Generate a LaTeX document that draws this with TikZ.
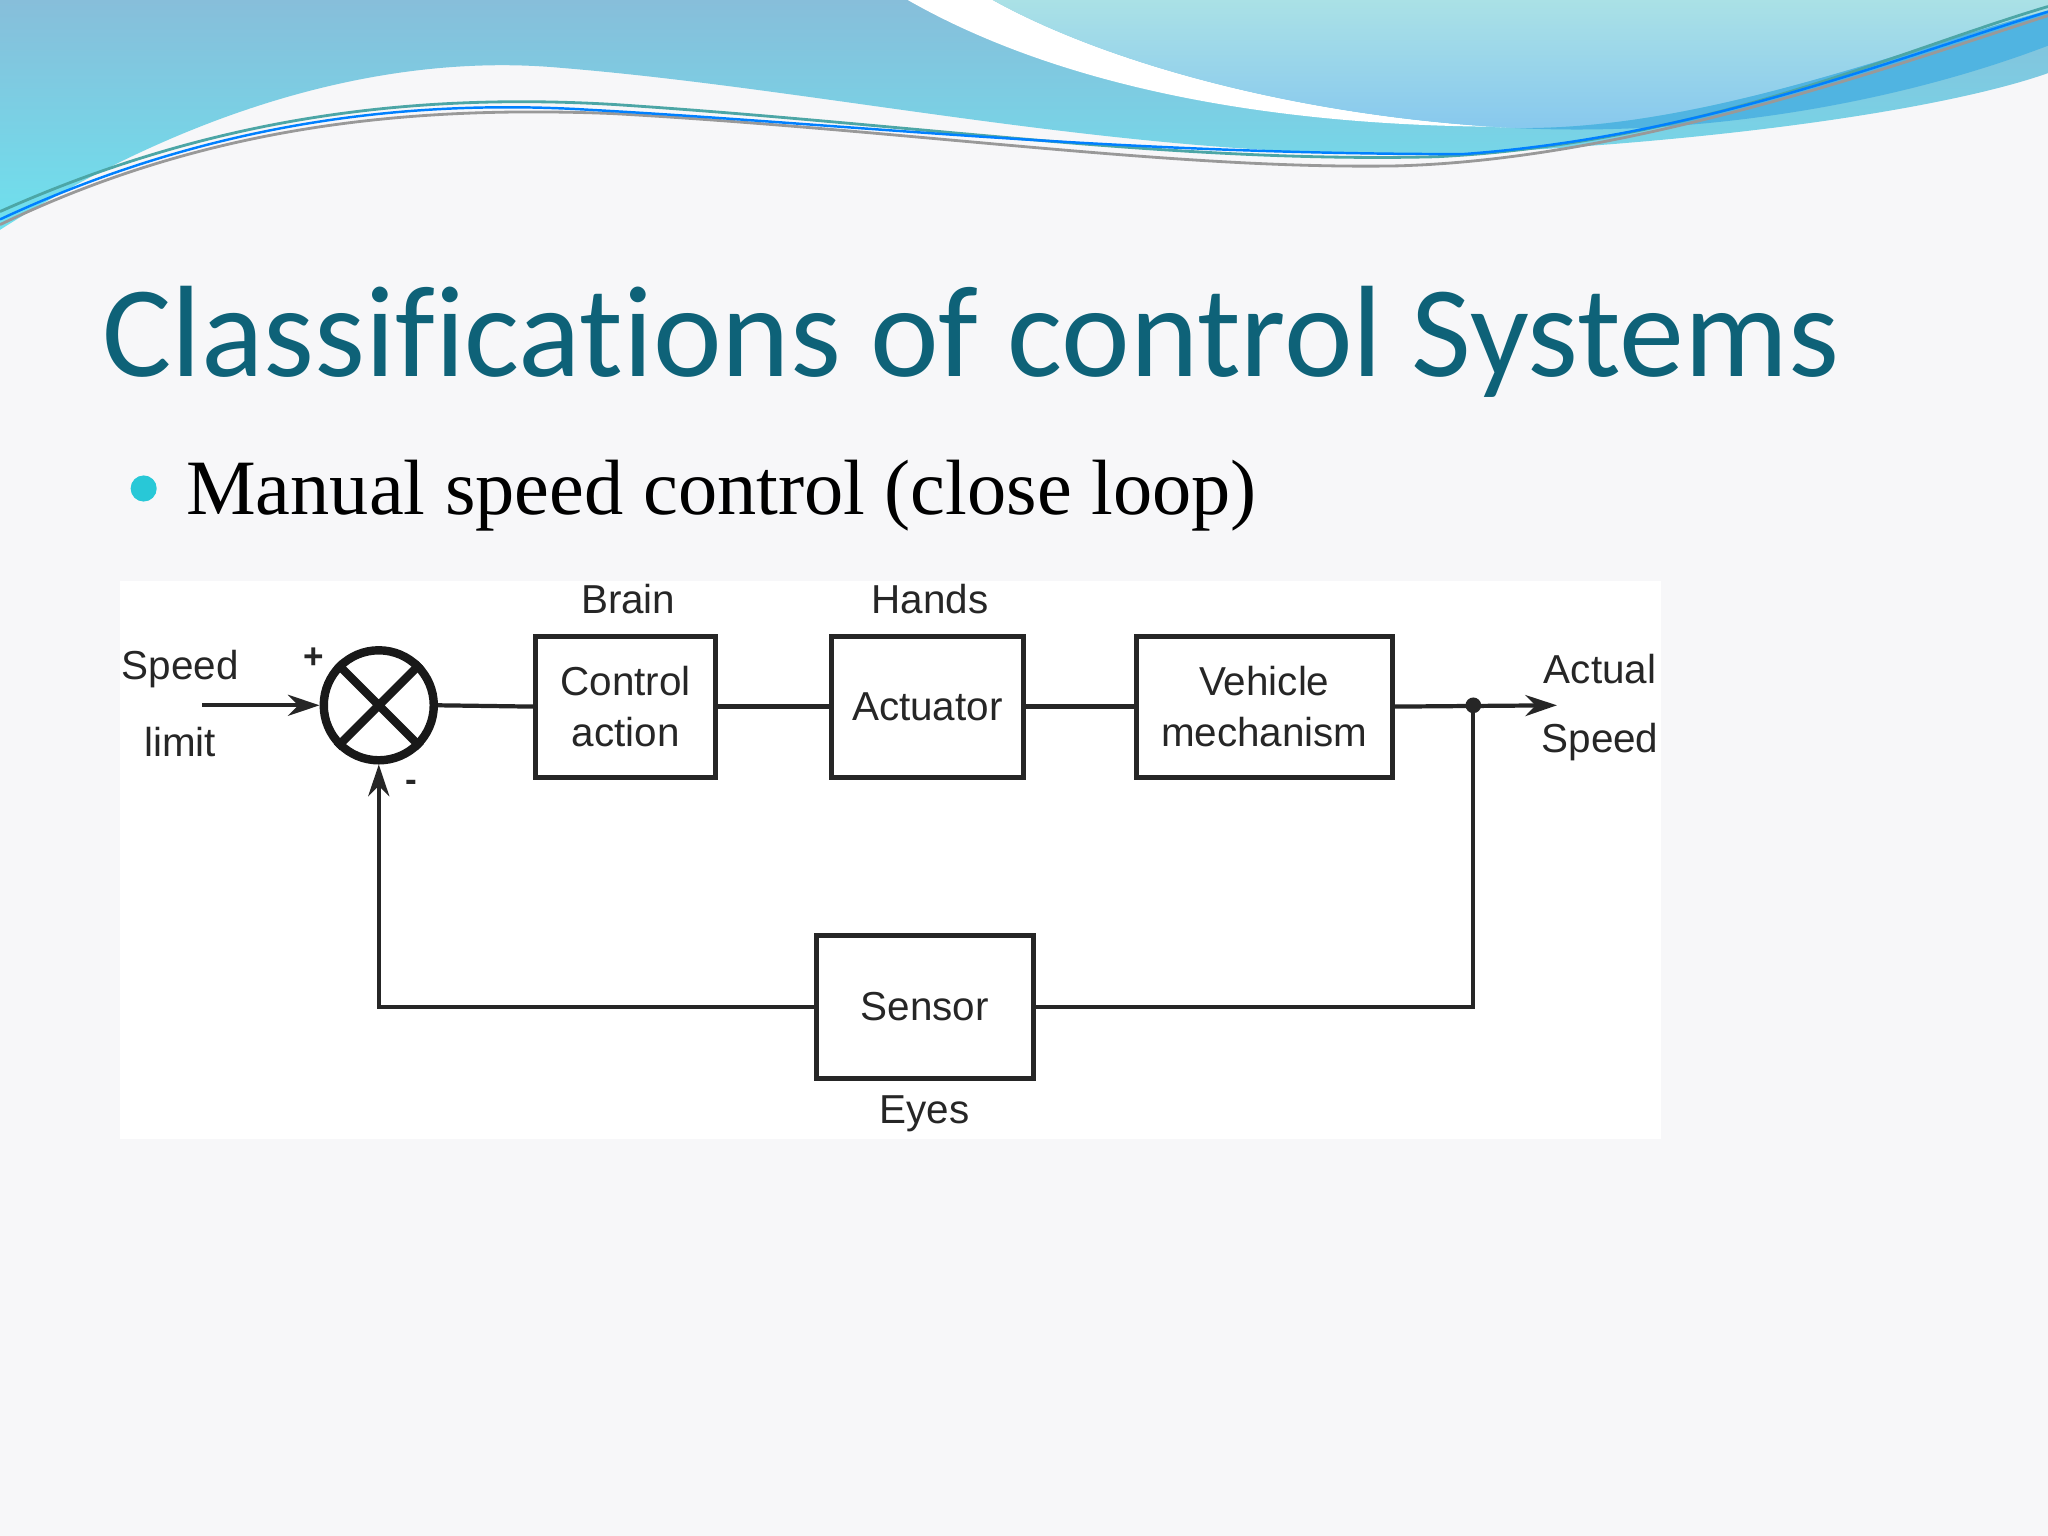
\documentclass[tikz,border=0pt]{standalone}
\usepackage{fontspec}
\setmainfont{Liberation Serif}
\newfontfamily\titlefont[Ligatures={NoCommon}]{Carlito}
\newfontfamily\diafont{Liberation Sans}
\usetikzlibrary{arrows.meta}
\definecolor{bg}{RGB}{247,247,249}
\definecolor{titlec}{RGB}{14,98,120}
\definecolor{bul}{RGB}{40,200,215}
\definecolor{waveA}{RGB}{135,190,218}
\definecolor{waveB}{RGB}{110,225,238}
\definecolor{waveC}{RGB}{170,225,230}
\definecolor{waveD}{RGB}{135,200,238}
\definecolor{waveE}{RGB}{80,180,225}
\tikzset{
  blk/.style={draw=black!85, line width=1.4pt, minimum height=1.41cm, inner sep=0pt, font=\diafont\fontsize{11.5}{14.5}\selectfont, align=center, text=black!85},
  lab/.style={font=\diafont\fontsize{11.5}{13}\selectfont, text=black!85},
  wire/.style={draw=black!85, line width=1.2pt},
}
\begin{document}
\begin{tikzpicture}[x=0.01306cm,y=-0.01306cm]
\fill[bg] (0,0) rectangle (1568,1176);
\useasboundingbox (0,0) rectangle (1568,1176);
% waves
\shade[top color=waveA, bottom color=waveB] (0,0) -- (0,176) .. controls (150,80) and (300,40) .. (430,52) .. controls (650,70) and (900,130) .. (1150,116) .. controls (1350,105) and (1500,80) .. (1568,56) -- (1568,0) -- cycle;
\fill[white] (695,0) .. controls (800,60) and (950,95) .. (1140,97) -- (1160,98) .. controls (1000,90) and (850,50) .. (760,0) -- cycle;
\shade[top color=waveC, bottom color=waveD] (760,0) .. controls (850,50) and (1000,90) .. (1160,98) .. controls (1300,100) and (1450,40) .. (1568,8) -- (1568,0) -- cycle;
\fill[waveE] (1160,98) .. controls (1300,100) and (1450,40) .. (1568,8) -- (1568,35) .. controls (1450,80) and (1300,105) .. (1160,98) -- cycle;
\draw[teal!70, line width=0.8pt] (0,162) .. controls (150,95) and (300,70) .. (470,80) .. controls (700,95) and (900,125) .. (1100,120) .. controls (1300,110) and (1450,40) .. (1568,5);
\draw[gray!80, line width=0.8pt] (0,172) .. controls (150,100) and (300,80) .. (470,87) .. controls (700,100) and (900,130) .. (1070,127) .. controls (1250,122) and (1450,50) .. (1568,12);
\draw[blue!50!cyan, line width=0.7pt] (0,168) .. controls (150,98) and (300,75) .. (450,84) .. controls (650,95) and (850,118) .. (1120,118) .. controls (1300,105) and (1450,45) .. (1568,9);
% title
\node[anchor=base west, inner sep=0, text=titlec, font=\titlefont\fontsize{37}{42}\selectfont] (title) at (78,288) {Classifications of control Systems};
\fill[bul] (110,374) circle (10);
\node[anchor=base west, inner sep=0, font=\fontsize{22.3}{26}\selectfont, text=black] (sub) at (142,394) {Manual speed control (close loop)};
% diagram
\fill[white] (92,445) rectangle (1272,872);
\node[draw=black!90, line width=2.4pt, circle, minimum size=1.1cm, inner sep=0] (sum) at (290,540) {};
\draw[black!90, line width=2.4pt] (sum.north west) -- (sum.south east) (sum.north east) -- (sum.south west);
\node[blk, minimum width=1.8cm] (ctl) at (479,541) {Control\\action};
\node[blk, minimum width=1.92cm] (act) at (710,541) {Actuator};
\node[blk, minimum width=2.56cm] (veh) at (968,541) {Vehicle\\mechanism};
\node[blk, minimum width=2.17cm, minimum height=1.43cm] (sen) at (708,771) {Sensor};
\coordinate (in) at (155,540);
\coordinate (out) at (1192,540);
\coordinate (br) at (1128,540);
\fill[black!85] (br) circle (6);
\draw[wire, -{Stealth[length=9pt,width=6pt]}] (in) -- (sum.west);
\draw[wire] (sum.east) -- (ctl.west);
\draw[wire] (ctl.east) -- (act.west);
\draw[wire] (act.east) -- (veh.west);
\draw[wire, -{Stealth[length=9pt,width=6pt]}] (veh.east) -- (out);
\draw[wire] (br) |- (sen.east);
\draw[wire, -{Stealth[length=9pt,width=6pt]}] (sen.west) -| (sum.south);
\node[lab] (l1) at (138,512) {Speed};
\node[lab] (l2) at (138,568) {limit};
\node[lab] (l3) at (1225,512) {Actual};
\node[lab] (l4) at (1225,568) {Speed};
\node[lab] (l5) at (481,459) {Brain};
\node[lab] (l6) at (712,459) {Hands};
\node[lab] (l7) at (708,853) {Eyes};
\node[lab, font=\diafont\bfseries\fontsize{10}{12}\selectfont] (pl) at (240,504) {+};
\node[lab, font=\diafont\bfseries\fontsize{10}{12}\selectfont] (mi) at (315,602) {-};
\end{tikzpicture}
\end{document}
